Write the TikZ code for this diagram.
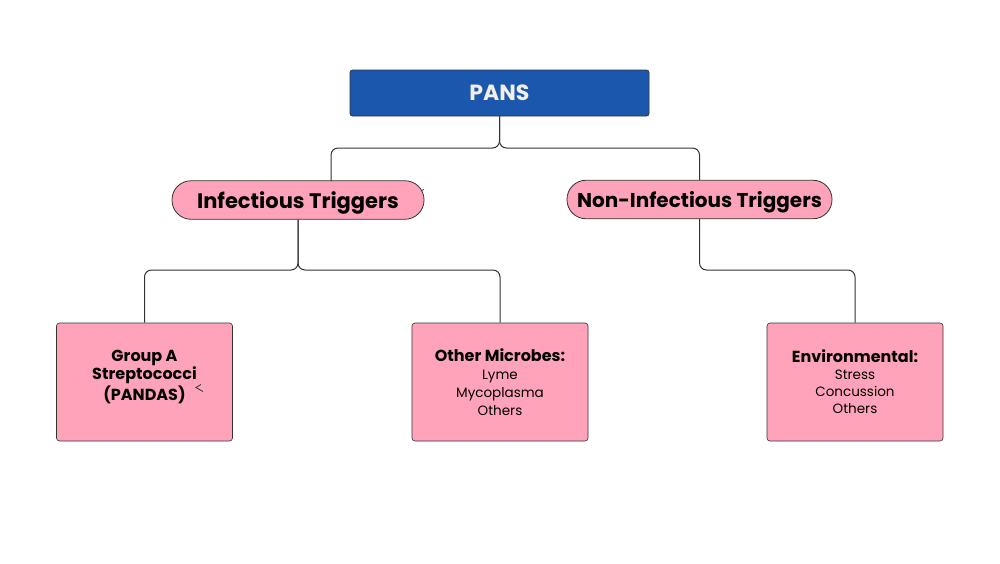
\documentclass[tikz,border=0pt]{standalone}
\usepackage{fontspec}
\setmainfont{Poppins}
\definecolor{pansblue}{HTML}{1C57AE}
\definecolor{pinkfill}{HTML}{FFA3BB}
\definecolor{linegray}{HTML}{333333}
\definecolor{paletext}{HTML}{F2EFE9}
\newcommand{\lhead}[1]{{\fontsize{16}{18}\selectfont\bfseries #1}}
\newcommand{\lowtext}[1]{\raisebox{-2.5pt}[\height][\depth]{#1}}
\tikzset{
  topbox/.style={draw=linegray, line width=0.7pt, fill=pansblue, rounded corners=2.5pt, minimum width=299pt, minimum height=46pt, inner sep=0pt, text=paletext, font=\fontsize{22}{26}\selectfont\bfseries},
  pill/.style={draw=linegray, line width=0.8pt, fill=pinkfill, rounded corners=19pt, minimum height=38.5pt, inner sep=0pt},
  leaf/.style={draw=linegray, line width=0.6pt, fill=pinkfill, rounded corners=3pt, minimum width=176pt, minimum height=118pt, inner sep=0pt, align=center, font=\fontsize{13.5}{18}\selectfont},
  conn/.style={draw=linegray, line width=1pt, rounded corners=7pt},
  straymark/.style={draw=linegray, line width=0.8pt}
}
\begin{document}
\begin{tikzpicture}[x=1pt,y=-1pt]
\useasboundingbox (0,0) rectangle (1000,563);
\fill[white] (0,0) rectangle (1000,563);
\coordinate (j1) at (499.5,148);
\coordinate (j2) at (298,270);
\coordinate (j3) at (699.5,270);
\node[topbox] (pans) at (499.5,93) {PANS};
\node[pill, minimum width=252pt, font=\fontsize{21}{24}\selectfont\bfseries] (inf) at (298,200) {\lowtext{Infectious Triggers}};
\node[pill, minimum width=265pt, font=\fontsize{20}{24}\selectfont\bfseries] (noninf) at (699.5,199.5) {\lowtext{Non-Infectious Triggers}};
\coordinate (infin) at (331,181);
\node[leaf] (gas) at (144.5,382) {\lhead{Group A}\\[0.5pt]\lhead{Streptococci}\\[0.5pt]\lhead{(PANDAS)}\\[-4pt]\mbox{}};
\node[leaf] (micro) at (500,382) {\lhead{Other Microbes:}\\Lyme\\Mycoplasma\\Others};
\node[leaf] (env) at (855,382) {\lhead{Environmental:}\\[-1pt]Stress\\[-1pt]Concussion\\[-1pt]Others};
\draw[conn] (pans.south) -- (j1) -| (infin);
\draw[conn] (pans.south) -- (j1) -| (noninf.north);
\draw[conn] (inf.south) -- (j2) -| (gas.north);
\draw[conn] (inf.south) -- (j2) -| (micro.north);
\draw[conn] (noninf.south) -- (j3) -| (env.north);
% stray marks
\draw[straymark] (201,384.5) -- (196,387.5) -- (203,391.5);
\draw[straymark] (421.5,190.5) -- (424,189.5);
\end{tikzpicture}
\end{document}
